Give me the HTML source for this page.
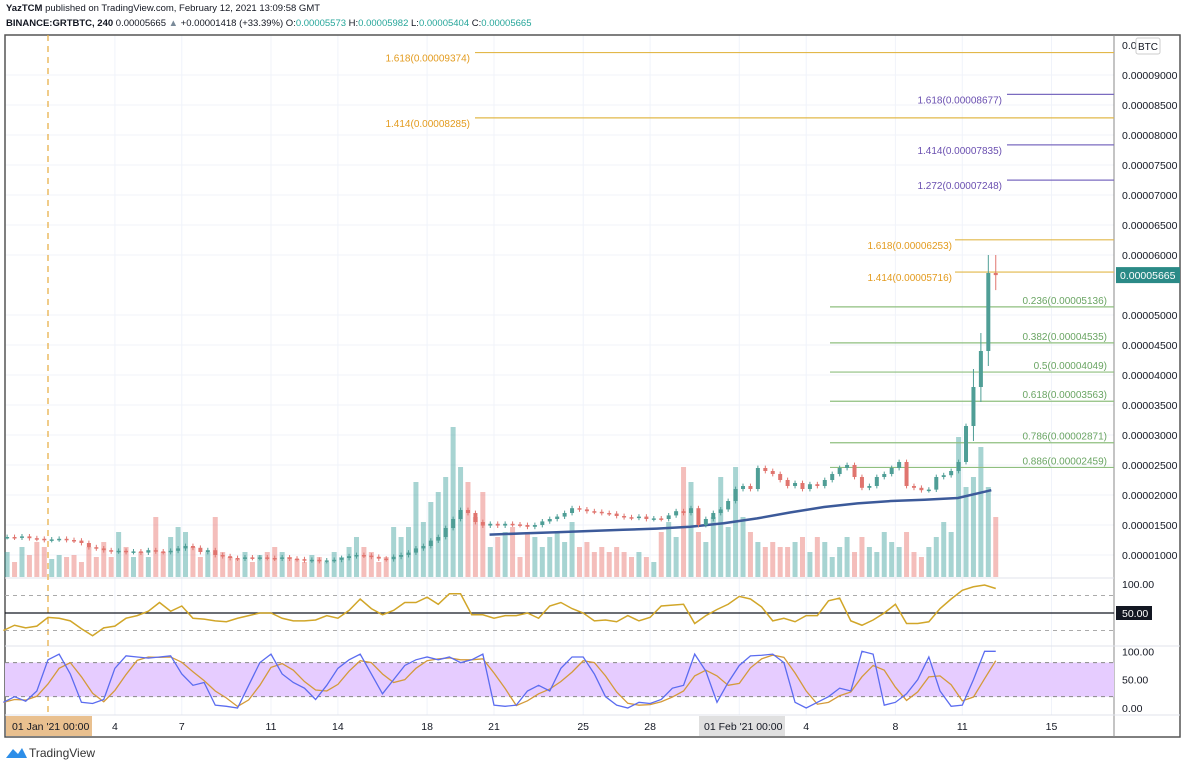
<!DOCTYPE html>
<html><head><meta charset="utf-8">
<style>
body{margin:0;background:#fff;font-family:"Liberation Sans",sans-serif;}
#wrap{position:relative;width:1185px;height:768px;overflow:hidden;}
.hdr{position:absolute;left:6px;font-size:9.5px;color:#131722;white-space:nowrap;}
</style></head><body>
<div id="wrap">
<div class="hdr" style="top:3px"><b>YazTCM</b> published on TradingView.com, February 12, 2021 13:09:58 GMT</div>
<div class="hdr" style="top:18px"><b>BINANCE:GRTBTC, 240</b> 0.00005665 <span style="color:#7a8a99">▲</span> +0.00001418 (+33.39%) O:<span style="color:#26a69a">0.00005573</span> H:<span style="color:#26a69a">0.00005982</span> L:<span style="color:#26a69a">0.00005404</span> C:<span style="color:#26a69a">0.00005665</span></div>
<svg id="chart" width="1185" height="768" style="position:absolute;left:0;top:0" font-family="Liberation Sans, sans-serif"></svg>
</div>
<script>
// ---- data ----
const closes=[1300,1290,1310,1280,1270,1250,1260,1270,1250,1240,1200,1130,1110,1080,1060,1070,1050,1060,1040,1080,1060,1050,1070,1110,1150,1120,1050,1080,1000,980,950,940,960,950,960,950,940,960,940,930,910,920,900,910,920,950,980,1000,990,970,940,930,970,1000,1040,1110,1150,1240,1300,1450,1600,1750,1700,1550,1490,1520,1490,1520,1510,1500,1470,1500,1560,1600,1640,1700,1780,1760,1730,1720,1700,1690,1650,1630,1620,1640,1600,1610,1600,1660,1730,1700,1780,1500,1600,1700,1760,1900,2100,2150,2100,2450,2400,2350,2250,2150,2200,2100,2180,2150,2250,2350,2450,2500,2300,2120,2150,2300,2350,2450,2550,2150,2120,2080,2090,2300,2330,2400,2550,3150,3800,4400,5700,5665];
const volumes=[25,15,30,22,35,30,18,22,20,22,15,30,20,35,20,45,30,20,25,20,60,25,40,50,45,30,20,25,60,25,20,18,25,15,22,25,30,25,20,18,15,22,20,15,25,20,30,40,30,25,15,20,50,40,50,95,55,75,85,100,150,110,95,60,85,30,40,45,50,20,45,40,30,40,45,35,55,30,35,25,30,25,30,25,20,25,20,15,45,55,40,110,95,45,35,60,100,50,110,60,45,35,30,35,30,30,35,40,25,40,35,20,30,40,25,40,30,25,45,35,30,45,25,20,30,40,55,45,140,90,100,130,90,60];
const maValues=[1340,1360,1380,1400,1420,1440,1470,1530,1610,1710,1800,1860,1900,1920,1950,2080];
const maStartDay=19.8, maStepDay=1.5;
const rsiValues=[30,36,33,35,45,44,41,32,24,33,35,44,47,52,62,52,58,44,43,41,40,44,47,50,50,44,41,41,42,47,44,53,66,55,48,53,62,62,68,60,72,72,48,48,44,47,47,50,44,58,62,55,50,41,42,40,47,41,45,58,59,60,38,47,54,60,69,66,57,41,44,40,47,47,64,67,41,36,42,50,60,38,38,40,55,66,76,80,82,78];
const stochK=[10,20,12,30,85,95,60,10,8,15,70,92,90,88,90,92,60,40,45,5,3,0,40,80,95,60,45,35,15,40,70,85,95,60,25,50,75,85,90,85,90,80,85,95,5,3,5,30,40,30,70,90,90,60,20,5,0,10,8,15,35,40,95,65,10,45,75,92,93,95,80,10,0,10,20,35,30,100,95,5,10,25,50,90,30,3,5,50,100,100];
const rsiTicks=["100.00","50.00"];
const stochTicks=["100.00","50.00","0.00"];
const priceTicks=[1000,1500,2000,2500,3000,3500,4000,4500,5000,6000,6500,7000,7500,8000,8500,9000];
const timeLabels=["4","7","11","14","18","21","25","28","4","8","11","15"];
const timeDays=[3,6,10,13,17,20,24,27,34,38,41,45];
const fibGreen=[["0.236",5136],["0.382",4535],["0.5",4049],["0.618",3563],["0.786",2871],["0.886",2459]];
const fibOrangeR=[["1.618",6253],["1.414",5716]];
const fibOrangeL=[["1.618",9374],["1.414",8285]];
const fibPurple=[["1.618",8677],["1.414",7835],["1.272",7248]];

// ---- axes ----
const X=d=>48+d*22.3;
const Y=p=>555-(p-1000)*0.06;
const VY=v=>577-v;
const RY=v=>613-(v-50)*0.875;
const SY=v=>708-v*0.567;
const candleDay=i=>-2+i/3+1/6;
const NS="http://www.w3.org/2000/svg";
const svg=document.getElementById('chart');
function el(t,a,parent){const e=document.createElementNS(NS,t);for(const k in a)e.setAttribute(k,a[k]);(parent||svg).appendChild(e);return e;}
const fmt=p=>"0."+String(Math.round(p)).padStart(8,"0");

// grid
const grid=el('g',{});


priceTicks.forEach(p=>el('line',{x1:5,x2:1114,y1:Y(p),y2:Y(p),stroke:'#f0f3fa'},grid));
timeDays.forEach(d=>el('line',{x1:X(d),x2:X(d),y1:35,y2:715,stroke:'#f0f3fa'},grid));
el('line',{x1:X(31),x2:X(31),y1:35,y2:715,stroke:'#f0f3fa'},grid);

// frame
el('rect',{x:5,y:35,width:1175,height:702,fill:'none',stroke:'#555','stroke-width':1.5});
el('line',{x1:1114,x2:1114,y1:35,y2:737,stroke:'#888'});
el('line',{x1:5,x2:1114,y1:578,y2:578,stroke:'#e0e3eb'});
el('line',{x1:5,x2:1180,y1:646,y2:646,stroke:'#e0e3eb'});
el('line',{x1:5,x2:1180,y1:715,y2:715,stroke:'#e0e3eb'});

// vertical dashed orange line
const vl=el('line',{x1:48,x2:48,y1:35,y2:715,stroke:'#e8b04a','stroke-dasharray':'6,5','stroke-width':1.3});



// volume
closes.forEach((c,i)=>{
  const o=i?closes[i-1]:c;const x=X(candleDay(i));
  const r=el('rect',{x:x-2.5,y:VY(volumes[i]),width:5,height:volumes[i],fill:c>=o?'rgba(60,160,155,0.45)':'rgba(230,110,105,0.45)'});
  
  
});

// fib lines
function fibLine(arr,x1,col,txtCol,labelX,anchor,dy){
  arr.forEach(([r,p])=>{
    const l=el('line',{x1:x1,x2:1114,y1:Y(p),y2:Y(p),stroke:col,'stroke-width':1.2});
    
    
    const t=el('text',{x:labelX,y:Y(p)+dy,'font-size':10,fill:txtCol,'text-anchor':anchor});
    t.textContent=r+"("+fmt(p)+")";
    
    
  });
}
fibLine(fibOrangeL,475,'#e2b84a','#e39b1e',470,'end',9);
fibLine(fibOrangeR,955,'#e2b84a','#e39b1e',952,'end',9);
fibLine(fibGreen,830,'#8fbf7f','#6aa563',1107,'end',-3);
fibLine(fibPurple,1007,'#7b6bc0','#6a4fb0',1002,'end',9);

// MA
let pts=maValues.map((v,i)=>X(maStartDay+i*maStepDay)+','+Y(v)).join(' ');
const ma=el('polyline',{points:pts,fill:'none',stroke:'#3c5a9a','stroke-width':2.5});



// candles
closes.forEach((c,i)=>{
  const o=i?closes[i-1]:c;const x=X(candleDay(i));const up=c>=o;
  const col=up?'#4f9e96':'#e0756f';
  const hi=Math.max(o,c)+(i>=130?300:40), lo=Math.min(o,c)-(i>=130?250:40);
  el('line',{x1:x,x2:x,y1:Y(hi),y2:Y(lo),stroke:col});
  const b=el('rect',{x:x-2,y:Y(Math.max(o,c)),width:4,height:Math.max(1.5,Math.abs(Y(o)-Y(c))),fill:col});
  
  
});

// price axis labels
priceTicks.forEach(p=>{const t=el('text',{x:1122,y:Y(p)+4,'font-size':10.5,fill:'#131722'});t.textContent=fmt(p);
  
  });
const t95=el('text',{x:1122,y:Y(9500)+4,'font-size':10.5,fill:'#131722'});t95.textContent="0.0";
const btc=el('rect',{x:1136,y:38,width:24,height:16,fill:'#fff',stroke:'#ccc',rx:2});


const bt=el('text',{x:1148,y:50,'font-size':10,fill:'#131722','text-anchor':'middle'});bt.textContent="BTC";
const pl=el('rect',{x:1116,y:Y(5665)-8,width:64,height:16,fill:'#2b8a87'});


const plt=el('text',{x:1120,y:Y(5665)+4,'font-size':10.5,fill:'#fff'});plt.textContent="0.00005665";

// RSI panel
[70,30].forEach(v=>el('line',{x1:5,x2:1114,y1:RY(v),y2:RY(v),stroke:'#aaa','stroke-dasharray':'4,4'}));
el('line',{x1:5,x2:1114,y1:RY(50),y2:RY(50),stroke:'#131722','stroke-width':1.3});
pts=rsiValues.map((v,i)=>X(-2+i*0.5)+','+RY(v)).join(' ');
const rsi=el('polyline',{points:pts,fill:'none',stroke:'#d1a629','stroke-width':1.5});


const r100=el('text',{x:1122,y:588,'font-size':10.5,fill:'#131722'});r100.textContent=rsiTicks[0];
const r50b=el('rect',{x:1116,y:606,width:36,height:14,fill:'#131722'});
const r50=el('text',{x:1122,y:617,'font-size':10.5,fill:'#fff'});r50.textContent=rsiTicks[1];

// Stoch panel
const band=el('rect',{x:5,y:SY(80),width:1109,height:SY(20)-SY(80),fill:'#e6ccff'});


[80,20].forEach(v=>el('line',{x1:5,x2:1114,y1:SY(v),y2:SY(v),stroke:'#888','stroke-dasharray':'4,4'}));
const stochD=stochK.map((v,i)=>{const a=stochK.slice(Math.max(0,i-2),i+1);return a.reduce((s,q)=>s+q,0)/a.length;});
pts=stochD.map((v,i)=>X(-2+i*0.5)+','+SY(v)).join(' ');
const sd=el('polyline',{points:pts,fill:'none',stroke:'#d49a3a','stroke-width':1.3});


pts=stochK.map((v,i)=>X(-2+i*0.5)+','+SY(v)).join(' ');
const sk=el('polyline',{points:pts,fill:'none',stroke:'#5b6cf0','stroke-width':1.3});


[100,50,0].forEach((v,i)=>{const t=el('text',{x:1122,y:SY(v)+4,'font-size':10.5,fill:'#131722'});t.textContent=stochTicks[i];});

// time axis
timeLabels.forEach((l,i)=>{const t=el('text',{x:X(timeDays[i]),y:730,'font-size':10.5,fill:'#131722','text-anchor':'middle'});t.textContent=l;
  
  });
const jb=el('rect',{x:6,y:716,width:86,height:20,fill:'#e9c08f'});


const jt=el('text',{x:12,y:730,'font-size':10.5,fill:'#131722'});jt.textContent="01 Jan '21   00:00";
const fb=el('rect',{x:699,y:716,width:86,height:20,fill:'#e0e0e0'});


const ft=el('text',{x:704,y:730,'font-size':10.5,fill:'#131722'});ft.textContent="01 Feb '21   00:00";

// footer logo
const lg=el('path',{d:'M6 758 L13 749 L18 754 L22 748 L27 758 Z',fill:'#2d8ee8'});


const lt=el('text',{x:29,y:757,'font-size':12,fill:'#333'});lt.textContent="TradingView";
</script>
</body></html>
